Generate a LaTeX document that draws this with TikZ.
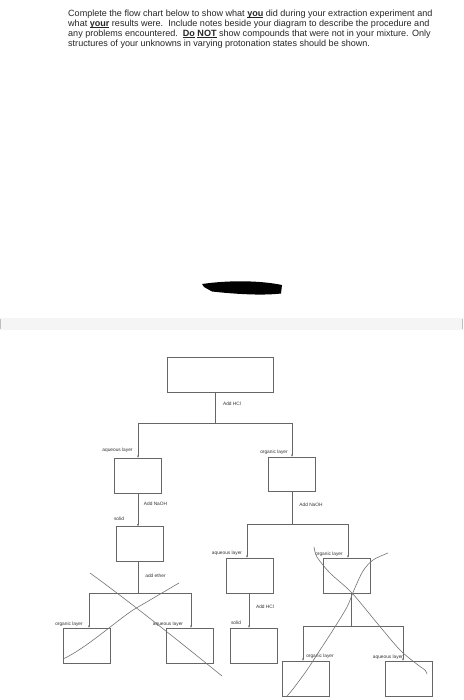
\documentclass[tikz,border=0pt]{standalone}
\usepackage{fontspec}
\setmainfont{Liberation Sans}
\usetikzlibrary{arrows.meta}
\newcommand\myul[1]{\setbox0\hbox{#1}\rlap{\rule[-1.3pt]{\wd0}{0.6pt}}\box0\relax}
\begin{document}
\begin{tikzpicture}[x=1pt,y=-1pt,
  box/.style={draw=black!60, line width=0.6pt, minimum width=47pt, minimum height=35pt, inner sep=0pt, outer sep=0pt},
  conn/.style={draw=black!60, line width=0.6pt},
  arr/.style={conn, -{Latex[length=2.4pt,width=2pt]}},
  lbl/.style={font=\fontsize{4.8}{5.5}\selectfont, text=black!80, inner sep=0pt},
  cross/.style={draw=black!55, line width=0.6pt, line cap=round}]
\useasboundingbox (0,0) rectangle (463,700);

% header text
\node[anchor=north west, align=left, inner sep=0pt, text=black!85,
  font=\fontsize{9.05}{10}\selectfont] (hdr) at (68,10)
  {Complete the flow chart below to show what \myul{\textbf{you}} did during your extraction experiment and\\
   what \myul{\textbf{your}} results were.\ \ Include notes beside your diagram to describe the procedure and\\
   any problems encountered.\ \ \myul{\textbf{Do}} \myul{\textbf{NOT}} show compounds that were not in your mixture. Only\\
   structures of your unknowns in varying protonation states should be shown.};

% redaction scribble
\fill[black] (202,284) .. controls (230,280) and (260,280.5) .. (282,285)
  -- (281,293.5) .. controls (260,296) and (230,293.5) .. (212,291.5) -- (204,287) -- cycle;

% faint grey band
\fill[black!4] (0,318) rectangle (463,330);
\draw[black!25, line width=0.6pt] (0.5,319) -- (0.5,329);
\draw[black!25, line width=0.6pt] (462.5,319) -- (462.5,329);

% boxes
\node[box, minimum width=106pt] (T) at (220,374.5) {};
\node[box] (L1) at (138,475.5) {};
\node[box] (L2) at (139.5,544) {};
\node[box] (L3a) at (87,645.5) {};
\node[box] (L3b) at (190,645.5) {};
\node[box, minimum height=34pt] (R1) at (292,474) {};
\node[box] (R2a) at (250,575.5) {};
\node[box] (R2b) at (347,575.5) {};
\node[box] (R3) at (254,645.5) {};
\node[box] (R4a) at (305.5,678.5) {};
\node[box] (R4b) at (409,678.5) {};

% junction coordinates
\coordinate (jT) at (215,423);
\coordinate (cTL) at (138,423);
\coordinate (cTR) at (292,423);
\coordinate (jL) at (138,593);
\coordinate (cLL) at (89,593);
\coordinate (cLR) at (191,593);
\coordinate (jR) at (292,524);
\coordinate (cRL) at (247,524);
\coordinate (cRR) at (348,524);
\coordinate (aR3) at (249,600);
\coordinate (jR2) at (351,626);
\coordinate (cR2L) at (303,626);
\coordinate (cR2R) at (403,626);

% connectors
\draw[conn] (T.south -| jT) -- (jT);
\draw[conn] (cTL) -- (cTR);
\draw[arr] (cTL) -- (L1.north -| cTL);
\draw[arr] (cTR) -- (R1.north -| cTR);
\draw[arr] (L1.south -| cTL) -- (L2.north -| cTL);
\draw[conn] (L2.south -| jL) -- (jL);
\draw[conn] (cLL) -- (cLR);
\draw[arr] (cLL) -- (L3a.north -| cLL);
\draw[arr] (cLR) -- (L3b.north -| cLR);
\draw[conn] (R1.south -| jR) -- (jR);
\draw[conn] (cRL) -- (cRR);
\draw[arr] (cRL) -- (R2a.north -| cRL);
\draw[arr] (cRR) -- (R2b.north -| cRR);
\draw[arr] (R2a.south -| aR3) -- (R3.north -| aR3);
\draw[conn] (R2b.south -| jR2) -- (jR2);
\draw[conn] (cR2L) -- (cR2R);
\draw[arr] (cR2L) -- (R4a.north -| cR2L);
\draw[arr] (cR2R) -- (R4b.north -| cR2R);

% labels
\node[lbl] (t1) at (232,403.5) {Add HCl};
\node[lbl] (t2) at (117.5,450.5) {aqueous layer};
\node[lbl] (t3) at (274,452) {organic layer};
\node[lbl] (t4) at (155.5,504) {Add NaOH};
\node[lbl] (t5) at (311,505) {Add NaOH};
\node[lbl] (t6) at (119,519) {solid};
\node[lbl] (t7) at (155.5,576) {add ether};
\node[lbl] (t8) at (69,624) {organic layer};
\node[lbl] (t9) at (168,624) {aqueous layer};
\node[lbl] (t10) at (227,553.5) {aqueous layer};
\node[lbl] (t11) at (329,554) {organic layer};
\node[lbl] (t12) at (265,607) {Add HCl};
\node[lbl] (t13) at (236,623) {solid};
\node[lbl] (t14) at (320,656) {organic layer};
\node[lbl] (t15) at (388,657) {aqueous layer};

% cross-outs
\draw[cross] (90,573) .. controls (130,602) and (180,642) .. (222,676);
\draw[cross] (63,659) .. controls (85,649) and (115,622) .. (133,610) -- (179,583);
\draw[cross] plot[smooth] coordinates {(314,547) (317,557) (330,573) (352,593) (377,623) (400,650) (418,665) (425,670) (427,674)};
\draw[cross] plot[smooth] coordinates {(388,553) (373,560) (363,571) (354,590) (347,607) (333,630) (320,650) (307,670) (293,689) (287,696)};
\end{tikzpicture}
\end{document}
